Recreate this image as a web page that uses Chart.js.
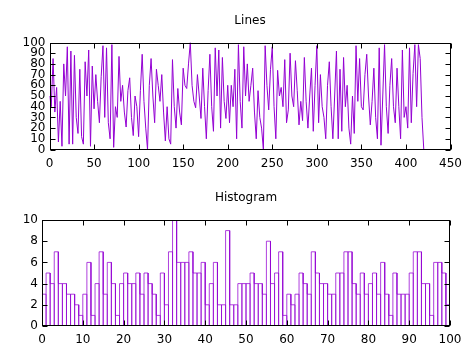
<!DOCTYPE html>
<html><head><meta charset="utf-8">
<script src="https://cdn.jsdelivr.net/npm/chart.js@4/dist/chart.umd.min.js"></script>
<style>
html,body{margin:0;padding:0;background:#fff;}
#wrap{position:relative;width:474px;height:355px;background:#fff;}
canvas{position:absolute;left:0;}
</style></head><body>
<div id="wrap">
<canvas id="c1" width="474" height="177" style="top:0;width:474px;height:177px"></canvas>
<canvas id="c2" width="474" height="178" style="top:177px;width:474px;height:178px"></canvas>
</div>
<script>
// ---- data ----
const lineTitle = 'Lines';
const histTitle = 'Histogram';
const lineStep = 2; // x spacing of the samples
const lineValues = [
50,40,85,35,58,7,45,3,80,50,96,5,92,5,88,30,15,75,12,5,82,50,93,3,78,38,70,45,25,68,97,30,95,25,
10,98,2,40,30,87,45,60,35,21,55,67,30,13,50,40,12,55,89,45,20,0,60,85,50,25,75,60,45,70,35,8,40,
10,5,84,40,20,57,35,23,76,60,57,80,100,60,45,39,70,50,29,76,40,10,55,89,40,17,95,50,93,20,86,45,29,60,
25,60,40,75,10,98,45,20,96,50,80,45,60,76,35,10,55,30,20,0,97,60,37,75,96,40,10,74,50,58,40,84,25,
37,90,50,40,83,55,23,45,27,86,45,20,50,76,17,60,97,25,70,40,30,10,60,82,40,10,50,92,10,75,17,86,40,
60,20,5,50,15,97,45,85,40,37,70,89,50,23,45,76,30,10,95,4,50,98,40,15,60,85,40,25,76,40,10,93,30,
40,20,95,25,71,98,40,98,85,30,0
];
const lineXTicks = [0,50,100,150,200,250,300,350,400,450];
const lineYTicks = [0,10,20,30,40,50,60,70,80,90,100];

const histBinStart = Array.from({length:100}, (_, i) => i);
const histBinWidth = 1;
const histCounts = [
3,5,4,7,4,4,3,3,2,1, 3,6,1,4,7,3,6,4,1,4, 5,4,4,5,3,5,4,3,1,5, 2,7,10,6,6,6,7,5,5,6,
2,4,6,2,2,9,2,2,4,4, 4,5,4,4,3,8,4,5,7,1, 3,2,3,5,4,3,7,5,4,4, 3,3,5,5,7,7,4,3,5,3,
4,5,3,6,3,1,5,3,3,3, 5,7,7,4,4,1,6,6,5,2
];
const histXTicks = [0,10,20,30,40,50,60,70,80,90,100];
const histYTicks = [0,2,4,6,8,10];

const FONT = '"DejaVu Sans", sans-serif';

const framePlugin = {
  id: 'frame',
  afterDraw(chart, args, opts) {
    const {ctx, chartArea: a} = chart;
    const x = chart.scales.x, y = chart.scales.y;
    ctx.save();
    ctx.strokeStyle = '#000';
    ctx.lineWidth = 1;
    const L = Math.round(a.left) + 0.5, R = Math.round(a.right) - 0.5;
    const T = Math.round(a.top) + 0.5, B = Math.round(a.bottom) - 0.5;
    const tl = opts.tick;
    ctx.beginPath();
    x.ticks.forEach(t => {
      const px = Math.round(x.getPixelForValue(t.value)) + 0.5;
      ctx.moveTo(px, B); ctx.lineTo(px, B - tl);
      ctx.moveTo(px, T); ctx.lineTo(px, T + tl);
    });
    y.ticks.forEach(t => {
      const py = Math.round(y.getPixelForValue(t.value)) + 0.5;
      ctx.moveTo(L, py); ctx.lineTo(L + tl, py);
      ctx.moveTo(R, py); ctx.lineTo(R - tl, py);
    });
    ctx.stroke();
    ctx.strokeRect(L, T, R - L, B - T);
    ctx.font = '12px ' + FONT;
    ctx.fillStyle = '#000';
    ctx.textAlign = 'center';
    ctx.textBaseline = 'middle';
    ctx.fillText(opts.title, (a.left + a.right) / 2, opts.titleY);
    ctx.restore();
  }
};

function axes(xTicks, yTicks, xMin, xMax, yMin, yMax, yW, xH) {
  const tickFont = {family: FONT, size: 12};
  return {
    x: {
      type: 'linear', min: xMin, max: xMax, offset: false,
      afterBuildTicks: s => { s.ticks = xTicks.map(v => ({value: v})); },
      afterFit: s => { s.height = xH; },
      grid: {display: false, drawTicks: false},
      border: {display: false},
      ticks: {color: '#000', font: tickFont, padding: 7, maxRotation: 0, autoSkip: false}
    },
    y: {
      type: 'linear', min: yMin, max: yMax,
      afterBuildTicks: s => { s.ticks = yTicks.map(v => ({value: v})); },
      afterFit: s => { s.width = yW; },
      grid: {display: false, drawTicks: false},
      border: {display: false},
      ticks: {color: '#000', font: tickFont, padding: 4, autoSkip: false}
    }
  };
}

new Chart(document.getElementById('c1'), {
  type: 'line',
  data: {
    datasets: [{
      data: lineValues.map((v, i) => ({x: i * lineStep, y: v})),
      borderColor: '#9400d3',
      borderWidth: 1,
      pointRadius: 0,
      tension: 0,
      fill: false
    }]
  },
  options: {
    responsive: false, animation: false,
    layout: {padding: {top: 42.5, right: 23.5, left: 0, bottom: 0}},
    plugins: {legend: {display: false}, tooltip: {enabled: false}, title: {display: false},
      frame: {tick: 5, title: lineTitle, titleY: 21}},
    scales: axes(lineXTicks, lineYTicks, 0, 450, 0, 100, 49.5, 27.5)
  },
  plugins: [framePlugin]
});

// outline of each box (gnuplot "with boxes", empty fill)
const boxOutline = [];
histCounts.forEach((v, i) => {
  const x0 = histBinStart[i], x1 = x0 + histBinWidth;
  boxOutline.push({x: x0, y: 0}, {x: x0, y: v}, {x: x1, y: v}, {x: x1, y: 0});
});

new Chart(document.getElementById('c2'), {
  type: 'line',
  data: {
    datasets: [{
      data: boxOutline,
      borderColor: 'rgba(148,0,211,0.75)',
      borderWidth: 1,
      pointRadius: 0,
      tension: 0,
      fill: false
    }]
  },
  options: {
    responsive: false, animation: false,
    layout: {padding: {top: 43, right: 24, left: 0, bottom: 0}},
    plugins: {legend: {display: false}, tooltip: {enabled: false}, title: {display: false},
      frame: {tick: 5, title: histTitle, titleY: 21}},
    scales: axes(histXTicks, histYTicks, 0, 100, 0, 10, 42, 29)
  },
  plugins: [framePlugin]
});
</script>
</body></html>
